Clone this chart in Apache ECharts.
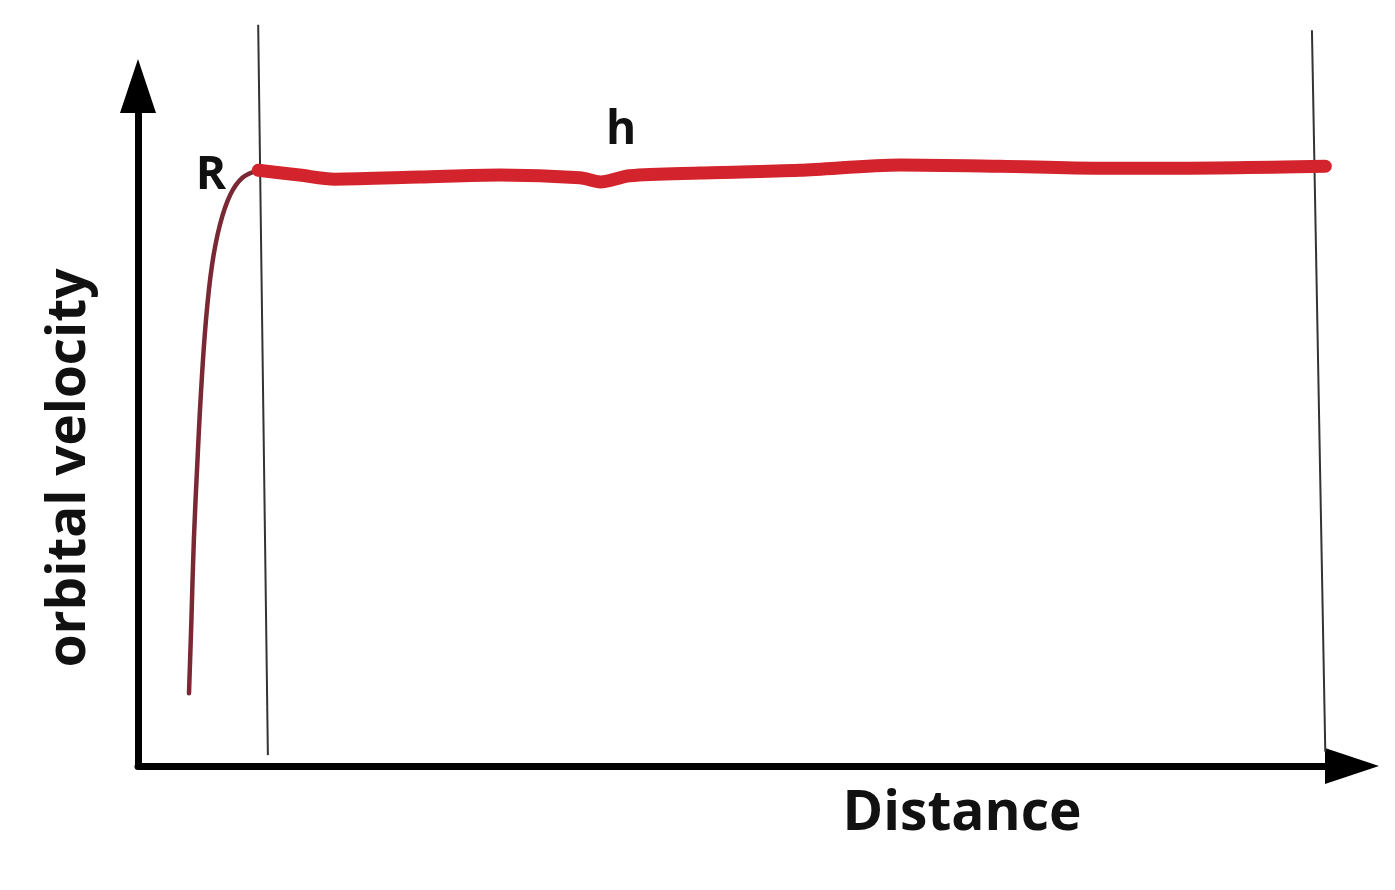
<!DOCTYPE html>
<html>
<head>
<meta charset="utf-8">
<script src="https://cdn.jsdelivr.net/npm/echarts@6/dist/echarts.min.js"></script>
<style>
html,body{margin:0;padding:0;background:#fff;}
#chart{width:1395px;height:890px;}
</style>
</head>
<body>
<div id="chart"></div>
<script>
// Rising part of the curve (distance, velocity)
const riseX = [4.2, 4.4, 4.6, 4.9, 5.2, 5.6, 6.1, 6.75, 7.6, 8.6, 9.9];
const riseY = [10.7, 21.5, 33.2, 45.0, 55.3, 65.6, 73.7, 79.6, 84.0, 86.5, 87.6];
// Flat (plateau) part of the curve
const flatX = [9.9, 13.3, 16.2, 23.2, 29.8, 36.4, 38.1, 40.5, 46.3, 54.5, 62.8, 71.0, 79.2, 84.2, 97.8];
const flatY = [87.6, 86.9, 86.3, 86.6, 86.9, 86.5, 85.9, 86.8, 87.2, 87.6, 88.4, 88.2, 87.9, 87.9, 88.2];
// Two thin vertical marker lines (R and far boundary)
const markR_X = [9.9, 10.7];
const markR_Y = [109, 1.6];
const markEnd_X = [96.7, 97.8];
const markEnd_Y = [108.2, 2.1];
// Texts
const xTitle = 'Distance';
const yTitle = 'orbital velocity';
const labelR = 'R';
const labelH = 'h';

const zip = (a, b) => a.map((v, i) => [v, b[i]]);
const FONT = '"Open Sans", "DejaVu Sans", sans-serif';

const chart = echarts.init(document.getElementById('chart'), null, {renderer: 'canvas'});
chart.setOption({
  backgroundColor: '#ffffff',
  animation: false,
  grid: {left: 138, top: 86, right: 43, bottom: 124, containLabel: false},
  xAxis: {
    type: 'value', min: 0, max: 100,
    axisLine: {show: true, symbol: ['none', 'triangle'], symbolSize: [36, 54],
      lineStyle: {color: '#000', width: 7}},
    axisTick: {show: false}, axisLabel: {show: false}, splitLine: {show: false}
  },
  yAxis: {
    type: 'value', min: 0, max: 100,
    axisLine: {show: true, symbol: ['none', 'triangle'], symbolSize: [36, 54],
      lineStyle: {color: '#000', width: 7}},
    axisTick: {show: false}, axisLabel: {show: false}, splitLine: {show: false}
  },
  series: [
    {
      type: 'line', data: zip(markR_X, markR_Y), symbol: 'none', clip: false,
      lineStyle: {color: '#333', width: 2}, z: 2
    },
    {
      type: 'line', data: zip(markEnd_X, markEnd_Y), symbol: 'none', clip: false,
      lineStyle: {color: '#333', width: 2}, z: 2
    },
    {
      type: 'line', data: zip(riseX, riseY), symbol: 'none', smooth: 0.4, clip: false,
      lineStyle: {color: '#7a2833', width: 4.5, cap: 'round'}, z: 3
    },
    {
      type: 'line', data: zip(flatX, flatY), symbol: 'none', smooth: 0.3, clip: false,
      lineStyle: {color: '#d3232c', width: 13, cap: 'round', join: 'round'}, z: 4
    }
  ],
  graphic: [
    {type: 'text', x: 211, y: 176, z: 10,
      style: {text: labelR, font: 'bold 46px ' + FONT, fill: '#111', align: 'center', verticalAlign: 'middle'}},
    {type: 'text', x: 621, y: 131, z: 10,
      style: {text: labelH, font: 'bold 46px ' + FONT, fill: '#111', align: 'center', verticalAlign: 'middle'}},
    {type: 'text', x: 962, y: 814, z: 10,
      style: {text: xTitle, font: 'bold 55px ' + FONT, fill: '#111', align: 'center', verticalAlign: 'middle'}},
    {type: 'text', x: 70, y: 468, rotation: Math.PI / 2, z: 10,
      style: {text: yTitle, font: 'bold 53px ' + FONT, fill: '#111', align: 'center', verticalAlign: 'middle'}}
  ]
});
</script>
</body>
</html>
